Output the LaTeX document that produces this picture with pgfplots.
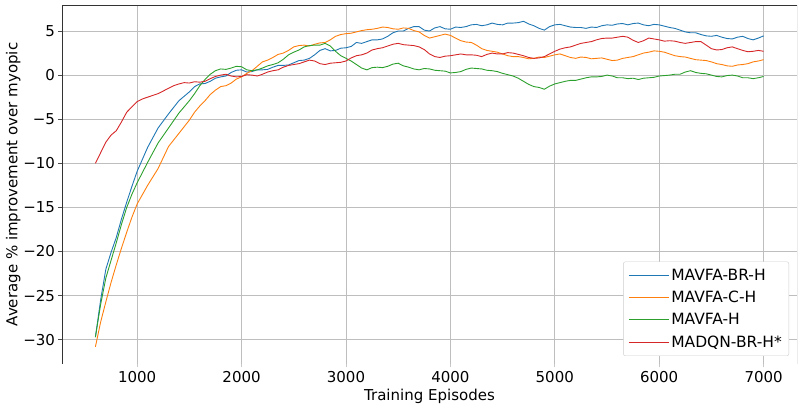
\documentclass[border=0pt]{standalone}
\usepackage{pgfplots}
\pgfplotsset{compat=1.18}
\usepackage{fontspec}
\setmainfont{DejaVu Sans}
\definecolor{tabblue}{HTML}{1F77B4}
\definecolor{taborange}{HTML}{FF7F0E}
\definecolor{tabgreen}{HTML}{2CA02C}
\definecolor{tabred}{HTML}{D62728}
\definecolor{gridgray}{HTML}{BEBEBE}
\definecolor{spinedark}{HTML}{333333}
\definecolor{spinelight}{HTML}{C8C8C8}
\begin{document}
\begin{tikzpicture}
\useasboundingbox (0,0) rectangle (804bp,412bp);
\begin{axis}[
  at={(62bp,48bp)}, anchor=south west,
  scale only axis, width=735bp, height=359bp,
  xmin=280, xmax=7320, ymin=-32.75, ymax=7.95,
  xtick={1000,2000,3000,4000,5000,6000,7000},
  xticklabels={1000,2000,3000,4000,5000,6000,7000},
  ytick={-30,-25,-20,-15,-10,-5,0,5},
  yticklabels={−30,−25,−20,−15,−10,−5,0,5},
  scaled ticks=false,
  /pgf/number format/assume math mode=true,
  tick label style={font=\fontsize{15bp}{18bp}\selectfont},
  label style={font=\fontsize{15bp}{18bp}\selectfont},
  xlabel={Training Episodes},
  ylabel={Average \% improvement over myopic},
  ylabel shift=-4bp,
  grid=major,
  major grid style={gridgray, line width=0.8bp},
  axis line style={draw=none},
  tick align=outside, major tick length=3.5bp,
  xtick style={spinelight, line width=0.8bp},
  ytick style={black!70, line width=0.8bp},
  xtick pos=bottom, ytick pos=left,
  legend cell align=left,
  legend style={at={(1,0)}, anchor=south east, xshift=-8bp, yshift=8bp,
    draw=black!20, rounded corners=2bp, fill=white,
    font=\fontsize{15.5bp}{18bp}\selectfont, row sep=5.5bp, inner xsep=5bp, inner ysep=5bp},
  legend image code/.code={\draw[#1] (0bp,0bp) -- (33bp,0bp); \path (0bp,0bp) -- (40bp,0bp);},
  every axis plot/.append style={line width=0.9bp},
]
\addplot[tabblue] coordinates {
(600,-29.7)(650,-25.5)(700,-22.0)(750,-20.1)(800,-18.4)(850,-16.3)(900,-14.4)(950,-12.6)(1000,-10.9)(1100,-8.2)(1200,-6.0)(1300,-4.4)(1400,-2.9)(1500,-1.9)(1550,-1.3)(1600,-1.0)(1650,-0.95)(1700,-0.7)(1750,-0.35)(1800,-0.2)(1850,-0.1)(1900,0.3)(1950,0.55)(2000,0.6)(2050,0.35)(2100,0.4)(2150,0.6)(2200,0.6)(2250,0.65)(2300,0.9)(2350,1.1)(2400,1.1)(2450,1.15)(2500,1.4)(2550,1.65)(2600,1.7)(2650,1.9)(2700,2.3)(2750,2.8)(2800,3.0)(2850,2.75)(2900,2.8)(2950,3.05)(3000,3.1)(3050,3.25)(3100,3.7)(3150,3.6)(3200,3.8)(3250,4.0)(3300,4.0)(3350,4.1)(3400,4.4)(3450,4.8)(3500,5.0)(3550,5.0)(3600,5.3)(3650,5.5)(3700,5.5)(3750,5.1)(3800,5.0)(3850,5.35)(3900,5.5)(3950,5.25)(4000,5.2)(4050,5.45)(4100,5.4)(4150,5.5)(4200,5.7)(4250,5.75)(4300,5.6)(4350,5.7)(4400,5.9)(4450,5.75)(4500,5.7)(4550,5.9)(4600,5.9)(4650,5.95)(4700,6.1)(4750,5.8)(4800,5.6)(4850,5.3)(4900,5.1)(4950,5.5)(5000,5.7)(5050,5.75)(5100,5.6)(5150,5.45)(5200,5.4)(5250,5.4)(5300,5.3)(5350,5.45)(5400,5.4)(5450,5.6)(5500,5.7)(5550,5.65)(5600,5.8)(5650,5.85)(5700,5.7)(5750,5.85)(5800,5.9)(5850,5.7)(5900,5.6)(5950,5.75)(6000,5.7)(6050,5.55)(6100,5.4)(6150,5.3)(6200,5.1)(6250,4.9)(6300,4.8)(6350,4.8)(6400,4.6)(6450,4.45)(6500,4.4)(6550,4.5)(6600,4.3)(6650,4.15)(6700,4.1)(6750,4.3)(6800,4.4)(6850,4.15)(6900,4.0)(6950,4.2)(7000,4.45)
};
\addlegendentry{MAVFA-BR-H}
\addplot[taborange] coordinates {
(600,-30.8)(650,-28.0)(700,-25.7)(750,-23.5)(800,-21.5)(850,-19.6)(900,-17.8)(950,-16.1)(1000,-14.6)(1100,-12.5)(1200,-10.6)(1300,-8.1)(1400,-6.6)(1500,-5.1)(1550,-4.2)(1600,-3.5)(1650,-2.9)(1700,-2.2)(1750,-1.7)(1800,-1.3)(1850,-1.2)(1900,-0.9)(1950,-0.45)(2000,-0.2)(2050,0.2)(2100,0.5)(2150,1.0)(2200,1.5)(2250,1.7)(2300,2.0)(2350,2.35)(2400,2.5)(2450,2.8)(2500,3.2)(2550,3.35)(2600,3.4)(2650,3.3)(2700,3.5)(2750,3.65)(2800,3.7)(2850,4.0)(2900,4.4)(2950,4.6)(3000,4.7)(3050,4.75)(3100,4.9)(3150,5.05)(3200,5.15)(3250,5.2)(3300,5.3)(3350,5.45)(3400,5.4)(3450,5.25)(3500,5.2)(3550,5.35)(3600,5.3)(3650,5.05)(3700,4.9)(3750,4.5)(3800,4.2)(3850,4.35)(3900,4.5)(3950,4.65)(4000,4.5)(4050,4.2)(4100,3.9)(4150,3.75)(4200,3.7)(4250,3.4)(4300,3.0)(4350,2.8)(4400,2.7)(4450,2.6)(4500,2.4)(4550,2.2)(4600,2.1)(4650,2.1)(4700,2.0)(4750,1.85)(4800,1.9)(4850,2.05)(4900,2.0)(4950,2.15)(5000,2.3)(5050,2.4)(5100,2.2)(5150,2.0)(5200,1.9)(5250,2.05)(5300,2.0)(5350,1.85)(5400,1.9)(5450,1.95)(5500,1.8)(5550,1.65)(5600,1.7)(5650,1.9)(5700,2.0)(5750,2.1)(5800,2.3)(5850,2.5)(5900,2.6)(5950,2.75)(6000,2.7)(6050,2.6)(6100,2.4)(6150,2.2)(6200,2.1)(6250,2.05)(6300,1.9)(6350,1.75)(6400,1.7)(6450,1.65)(6500,1.5)(6550,1.3)(6600,1.2)(6650,1.05)(6700,1.0)(6750,1.15)(6800,1.2)(6850,1.3)(6900,1.5)(6950,1.6)(7000,1.75)
};
\addlegendentry{MAVFA-C-H}
\addplot[tabgreen] coordinates {
(600,-29.7)(650,-26.0)(700,-23.0)(750,-21.0)(800,-19.0)(850,-16.9)(900,-15.0)(950,-13.5)(1000,-12.2)(1100,-9.9)(1200,-7.7)(1300,-6.0)(1400,-4.3)(1500,-2.9)(1550,-2.1)(1600,-1.2)(1650,-0.5)(1700,0.1)(1750,0.5)(1800,0.7)(1850,0.65)(1900,0.8)(1950,1.0)(2000,0.95)(2050,0.6)(2100,0.5)(2150,0.6)(2200,0.8)(2250,1.05)(2300,1.2)(2350,1.4)(2400,1.8)(2450,2.3)(2500,2.6)(2550,2.85)(2600,3.2)(2650,3.35)(2700,3.4)(2750,3.4)(2800,3.6)(2850,3.3)(2900,2.7)(2950,2.2)(3000,1.9)(3050,1.6)(3100,1.2)(3150,0.8)(3200,0.6)(3250,0.85)(3300,0.9)(3350,0.85)(3400,1.0)(3450,1.25)(3500,1.35)(3550,1.05)(3600,0.9)(3650,0.7)(3700,0.6)(3750,0.75)(3800,0.7)(3850,0.55)(3900,0.5)(3950,0.45)(4000,0.25)(4050,0.3)(4100,0.4)(4150,0.65)(4200,0.8)(4250,0.75)(4300,0.7)(4350,0.55)(4400,0.5)(4450,0.4)(4500,0.2)(4550,0.05)(4600,-0.1)(4650,-0.35)(4700,-0.7)(4750,-1.05)(4800,-1.3)(4850,-1.4)(4900,-1.6)(4950,-1.25)(5000,-1.0)(5050,-0.85)(5100,-0.7)(5150,-0.6)(5200,-0.6)(5250,-0.45)(5300,-0.3)(5350,-0.2)(5400,-0.2)(5450,-0.15)(5500,0.0)(5550,-0.1)(5600,-0.3)(5650,-0.3)(5700,-0.4)(5750,-0.35)(5800,-0.5)(5850,-0.35)(5900,-0.3)(5950,-0.25)(6000,-0.1)(6050,-0.05)(6100,0.0)(6150,0.1)(6200,0.1)(6250,0.35)(6300,0.5)(6350,0.3)(6400,0.2)(6450,0.15)(6500,0.0)(6550,-0.15)(6600,-0.2)(6650,-0.05)(6700,0.0)(6750,-0.1)(6800,-0.3)(6850,-0.3)(6900,-0.4)(6950,-0.3)(7000,-0.15)
};
\addlegendentry{MAVFA-H}
\addplot[tabred] coordinates {
(600,-10.0)(650,-8.8)(700,-7.6)(750,-6.8)(800,-6.3)(850,-5.3)(900,-4.2)(950,-3.6)(1000,-3.0)(1050,-2.7)(1100,-2.5)(1150,-2.3)(1200,-2.1)(1250,-1.8)(1300,-1.5)(1350,-1.2)(1400,-1.0)(1450,-0.85)(1500,-0.9)(1550,-0.75)(1600,-0.8)(1650,-0.7)(1700,-0.4)(1750,-0.15)(1800,0.0)(1850,0.1)(1900,-0.1)(1950,-0.2)(2000,-0.15)(2050,0.05)(2100,0.0)(2150,-0.1)(2200,0.1)(2250,0.35)(2300,0.5)(2350,0.6)(2400,0.9)(2450,1.1)(2500,1.2)(2550,1.3)(2600,1.5)(2650,1.7)(2700,1.6)(2750,1.3)(2800,1.2)(2850,1.35)(2900,1.4)(2950,1.45)(3000,1.6)(3050,1.95)(3100,2.2)(3150,2.3)(3200,2.5)(3250,2.85)(3300,3.0)(3350,3.1)(3400,3.3)(3450,3.5)(3500,3.6)(3550,3.45)(3600,3.4)(3650,3.35)(3700,3.2)(3750,2.9)(3800,2.4)(3850,2.1)(3900,2.0)(3950,2.15)(4000,2.2)(4050,2.3)(4100,2.4)(4150,2.3)(4200,2.3)(4250,2.25)(4300,2.1)(4350,2.35)(4400,2.5)(4450,2.4)(4500,2.4)(4550,2.55)(4600,2.5)(4650,2.35)(4700,2.2)(4750,2.0)(4800,1.9)(4850,1.95)(4900,2.1)(4950,2.4)(5000,2.7)(5050,2.95)(5100,3.1)(5150,3.2)(5200,3.4)(5250,3.6)(5300,3.7)(5350,3.8)(5400,4.0)(5450,4.15)(5500,4.2)(5550,4.2)(5600,4.3)(5650,4.4)(5700,4.3)(5750,3.95)(5800,3.7)(5850,3.9)(5900,4.2)(5950,4.1)(6000,4.0)(6050,3.85)(6100,3.9)(6150,3.85)(6200,3.7)(6250,3.6)(6300,3.7)(6350,3.8)(6400,3.8)(6450,3.4)(6500,3.0)(6550,2.85)(6600,2.9)(6650,3.1)(6700,3.2)(6750,3.0)(6800,2.8)(6850,2.65)(6900,2.7)(6950,2.8)(7000,2.7)
};
\addlegendentry{MADQN-BR-H*}
\draw[spinelight, line width=0.8bp] (rel axis cs:0,0) -- (rel axis cs:1,0);
\draw[spinedark, line width=0.8bp] (rel axis cs:0,0) -- (rel axis cs:0,1) -- (rel axis cs:1,1);
\draw[black!60, line width=0.8bp] (rel axis cs:1,1) -- (rel axis cs:1,0);
\end{axis}
\end{tikzpicture}
\end{document}
